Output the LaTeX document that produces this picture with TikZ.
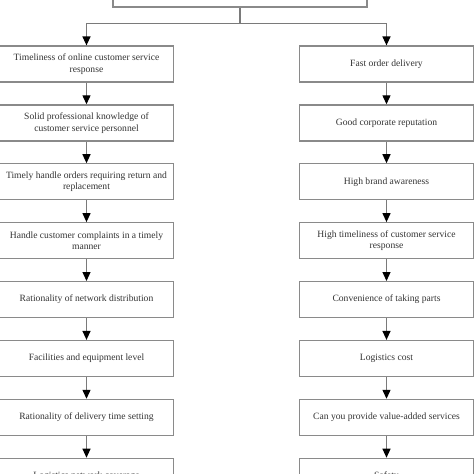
\documentclass[tikz,border=0pt]{standalone}
\usepackage{fontspec}
\setmainfont{Liberation Serif}
\usetikzlibrary{arrows.meta}
\usetikzlibrary{calc}

\definecolor{boxgray}{HTML}{8A8A8A}
\definecolor{linegray}{HTML}{7A7A7A}
\definecolor{txt}{HTML}{333333}

\begin{document}
\begin{tikzpicture}[x=1pt,y=-1pt,
	box/.style={draw=boxgray,line width=1.2pt,minimum width=174pt,minimum height=36pt,inner sep=0pt,align=center,text=txt,font=\fontsize{9.6}{11.7}\selectfont},
	link/.style={draw=linegray,line width=1.2pt,-{Triangle[width=8pt,length=9pt,color=black]}}]
	\useasboundingbox (0,0) rectangle (474,474);
	\node [box,minimum width=254pt] (t) at (240,-11) {};
	\foreach \i / \txt in {1/{Timeliness of online customer service\\response},
		2/{Solid professional knowledge of\\customer service personnel},
		3/{Timely handle orders requiring return and\\replacement},
		4/{Handle customer complaints in a timely\\manner},
		5/{Rationality of network distribution},
		6/{Facilities and equipment level},
		7/{Rationality of delivery time setting},
		8/{Logistics network coverage}} {
		\node [box] (l\i) at (86.5,{64+58.9*(\i-1)}) {\txt};
	}
	\foreach \i / \txt in {1/{Fast order delivery},
		2/{Good corporate reputation},
		3/{High brand awareness},
		4/{High timeliness of customer service\\response},
		5/{Convenience of taking parts},
		6/{Logistics cost},
		7/{Can you provide value-added services},
		8/{Safety}} {
		\node [box] (r\i) at (386.5,{64+58.9*(\i-1)}) {\txt};
	}
	\draw [draw=linegray,line width=1.2pt] (t.south) -- ++(0,16) coordinate (split);
	\draw [link] (split) -| (l1.north);
	\draw [link] (split) -| (r1.north);
	\foreach \i [count=\j from 2] in {1,...,7} {
		\draw [link] (l\i) -- (l\j);
		\draw [link] (r\i) -- (r\j);
	}
\end{tikzpicture}
\end{document}
